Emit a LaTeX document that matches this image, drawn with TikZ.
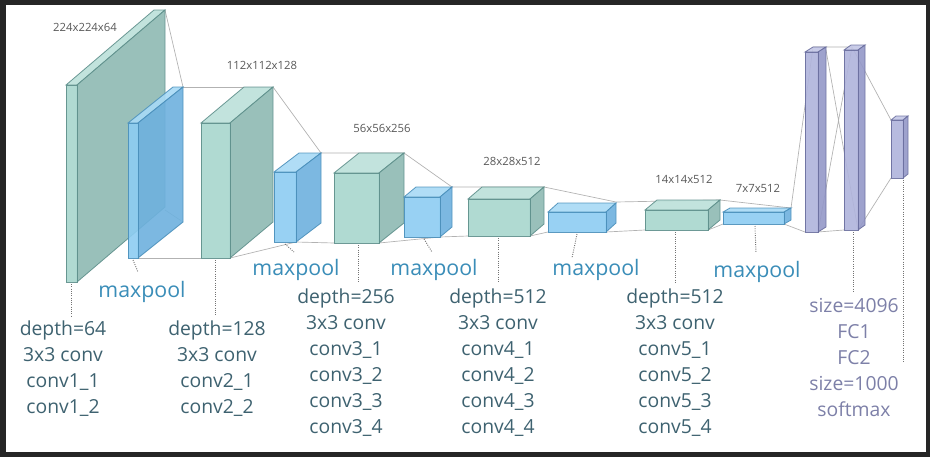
\documentclass[tikz,border=0pt]{standalone}
\usepackage{fontspec}
\setmainfont{Open Sans}
\definecolor{tlF}{HTML}{A8D6CE}\definecolor{tlS}{HTML}{8FBAB3}\definecolor{tlT}{HTML}{BCE0DA}\definecolor{tlE}{HTML}{5E8F8B}
\definecolor{blF}{HTML}{8DCDF2}\definecolor{blS}{HTML}{6EB1DE}\definecolor{blT}{HTML}{A8DAF6}\definecolor{blE}{HTML}{4A8FBA}
\definecolor{fcF}{HTML}{B0B4DC}\definecolor{fcS}{HTML}{9498C8}\definecolor{fcT}{HTML}{C4C7E6}\definecolor{fcE}{HTML}{6A6E9E}
\definecolor{txt}{HTML}{3E6270}\definecolor{mp}{HTML}{3A8DB8}\definecolor{fct}{HTML}{7D80A8}
\newcommand\blk[7]{%
 \filldraw[draw=#7E,fill=#7T,line width=0.6pt,opacity=0.9] (#1,#2)--++(#5,#6)--(#3+#5,#2+#6)--(#3,#2)--cycle;
 \filldraw[draw=#7E,fill=#7S,line width=0.6pt,opacity=0.9] (#3,#2)--(#3+#5,#2+#6)--(#3+#5,#4+#6)--(#3,#4)--cycle;
 \filldraw[draw=#7E,fill=#7F,line width=0.6pt,opacity=0.9] (#1,#2) rectangle (#3,#4);}
\tikzset{dim/.style={font=\fontsize{8.5}{9}\selectfont,text=black!65},
 mpl/.style={font=\fontsize{16}{18}\selectfont,text=mp},
 col/.style={font=\fontsize{14.5}{19.5}\selectfont,text=txt,align=center,anchor=north},
 fcl/.style={font=\fontsize{14.5}{19.5}\selectfont,text=fct,align=center,anchor=north},
 cn/.style={draw=black!30,line width=0.5pt},
 dot/.style={draw=black!55,densely dotted,line width=0.7pt}}
\begin{document}
\begin{tikzpicture}[x=0.75pt,y=-0.75pt]
\fill[black!85] (0,0) rectangle (930,457);
\fill[white] (6,5) rectangle (926,452);
\useasboundingbox (0,0) rectangle (930,457);
% connectors
\draw[cn] (165,10)--(183,87) (165,210)--(183,222);
\draw[cn] (183,87)--(273,87) (138,258)--(201,258);
\draw[cn] (273,87)--(321,153) (230,258)--(296,242);
\draw[cn] (321,153)--(404,153) (296,242)--(334,243);
\draw[cn] (404,153)--(452,187) (379,243)--(440,237);
\draw[cn] (452,187)--(544,187) (440,237)--(468,236);
\draw[cn] (544,187)--(616,202) (530,236)--(548,232);
\draw[cn] (616,202)--(720,200) (606,232)--(645,230);
\draw[cn] (720,200)--(791,208) (708,230)--(723,224);
\draw[cn] (791,208)--(813,47) (784,224)--(805,232);
\draw[cn] (813,47)--(852,47) (818,232)--(844,230);
\draw[cn] (852,47)--(891,120) (858,230)--(891,178) (826,50)--(858,230) (818,232)--(852,47);
% blocks
\blk{66}{85}{77}{282}{88}{-75}{tl}
\blk{128}{123}{138}{258}{45}{-36}{bl}
\blk{201}{123}{230}{258}{43}{-36}{tl}
\blk{274}{172}{296}{242}{25}{-19}{bl}
\blk{334}{173}{379}{243}{25}{-20}{tl}
\blk{404}{197}{440}{237}{12}{-10}{bl}
\blk{468}{199}{530}{236}{14}{-12}{tl}
\blk{548}{212}{606}{232}{10}{-9}{bl}
\blk{645}{210}{708}{230}{12}{-10}{tl}
\blk{723}{212}{784}{224}{7}{-4}{bl}
\blk{805}{52}{818}{232}{8}{-5}{fc}
\blk{844}{50}{858}{230}{7}{-5}{fc}
\blk{891}{120}{903}{178}{5}{-4}{fc}
% dimension labels
\node[dim] (d1) at (85,27) {224x224x64};
\node[dim] (d2) at (262,65) {112x112x128};
\node[dim] (d3) at (382,128) {56x56x256};
\node[dim] (d4) at (512,161) {28x28x512};
\node[dim] (d5) at (684,179) {14x14x512};
\node[dim] (d6) at (758,188) {7x7x512};
% maxpool
\node[mpl] (m1) at (142,292) {maxpool};
\node[mpl] (m2) at (296,270) {maxpool};
\node[mpl] (m3) at (434,270) {maxpool};
\node[mpl] (m4) at (596,270) {maxpool};
\node[mpl] (m5) at (757,272) {maxpool};
% dotted
\draw[dot] (71,284)--(71,316);
\draw[dot] (133,260)--(138,272);
\draw[dot] (215,260)--(215,316);
\draw[dot] (285,244)--(294,252);
\draw[dot] (358,245)--(358,283);
\draw[dot] (424,239)--(432,252);
\draw[dot] (498,238)--(498,283);
\draw[dot] (577,234)--(572,258);
\draw[dot] (675,232)--(675,283);
\draw[dot] (755,226)--(756,253);
\draw[dot] (853,232)--(853,292);
\draw[dot] (903,180)--(903,362);
% columns
\node[col] (c1) at (63,316) {depth=64\\3x3 conv\\conv1\_1\\conv1\_2};
\node[col] (c2) at (217,316) {depth=128\\3x3 conv\\conv2\_1\\conv2\_2};
\node[col] (c3) at (346,284) {depth=256\\3x3 conv\\conv3\_1\\conv3\_2\\conv3\_3\\conv3\_4};
\node[col] (c4) at (498,284) {depth=512\\3x3 conv\\conv4\_1\\conv4\_2\\conv4\_3\\conv4\_4};
\node[col] (c5) at (675,284) {depth=512\\3x3 conv\\conv5\_1\\conv5\_2\\conv5\_3\\conv5\_4};
\node[fcl] (c6) at (854,294) {size=4096\\FC1\\FC2\\size=1000\\softmax};
\end{tikzpicture}
\end{document}
